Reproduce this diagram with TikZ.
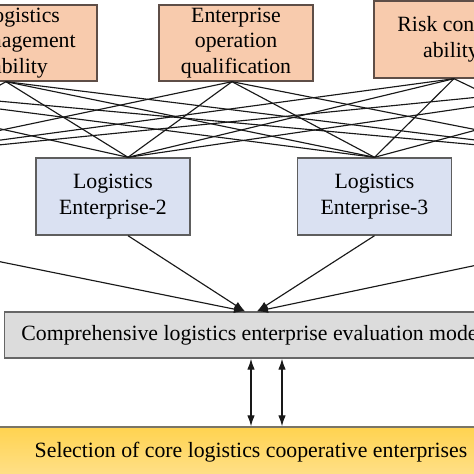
\documentclass[tikz,border=0pt]{standalone}
\usepackage{fontspec}
\setmainfont{Liberation Serif}
\usetikzlibrary{arrows.meta}
\definecolor{critfill}{HTML}{F8CBAD}
\definecolor{critline}{HTML}{5E4E47}
\definecolor{entfill}{HTML}{DAE1F2}
\definecolor{entline}{HTML}{5E5E5E}
\definecolor{evalfill}{HTML}{DCDCDC}
\definecolor{evalline}{HTML}{666666}
\definecolor{seltop}{HTML}{FFD350}
\definecolor{selbot}{HTML}{FFE08A}
\definecolor{selline}{HTML}{7A7565}

\begin{document}
\begin{tikzpicture}[x=0.02cm,y=-0.02cm,
    boxtext/.style={align=center,inner sep=0pt,line width=0.8pt,font=\fontsize{12.4}{14.6}\selectfont},
    crit/.style={boxtext,draw=critline,fill=critfill,minimum width=3.08cm,minimum height=1.52cm},
    ent/.style={boxtext,draw=entline,fill=entfill,minimum width=3.08cm,minimum height=1.54cm},
    evalbox/.style={boxtext,draw=evalline,fill=evalfill,anchor=west,inner xsep=0.334cm,minimum height=0.92cm},
    selbox/.style={boxtext,draw=selline,top color=seltop,bottom color=selbot,minimum width=12cm,minimum height=1cm},
    link/.style={line width=0.65pt,draw=black!90},
    toeval/.style={link,-{Latex[length=2.2mm,width=1.6mm]}},
    twoway/.style={link,{Latex[length=2.2mm,width=1.5mm]}-{Latex[length=2.2mm,width=1.5mm]}}]
    \path[use as bounding box,clip] (0,0) rectangle (474,474);

    \node[crit] (c1) at (20,43) {Logistics\\management\\ability};
    \node[crit] (c2) at (236,43) {Enterprise\\operation\\qualification};
    \node[crit,minimum height=1.54cm] (c3) at (451,39.5) {Risk control\\ability};

    \node[ent] (e2) at (113,196.5) {Logistics\\Enterprise-2};
    \node[ent] (e3) at (374.5,196.5) {Logistics\\Enterprise-3};

    \node[evalbox] (ev) at (4,335) {Comprehensive logistics enterprise evaluation model};
    \node[selbox] (sel) at (251,452) {Selection of core logistics cooperative enterprises};

    \coordinate (c0) at (-210,82);
    \coordinate (c1s) at ([xshift=-0.28cm]c1.south);
    \coordinate (c2s) at ([xshift=-0.08cm]c2.south);
    \coordinate (c3s) at ([xshift=0.06cm]c3.south);
    \coordinate (c4) at (670,78);

    \coordinate (e1n) at (-132,158);
    \coordinate (e1s) at (-132,235);
    \coordinate (e2n) at ([xshift=0.3cm]e2.north);
    \coordinate (e2s) at ([xshift=0.3cm]e2.south);
    \coordinate (e3n) at (e3.north);
    \coordinate (e3s) at (e3.south);
    \coordinate (e4n) at (620,158);
    \coordinate (e4s) at (620,235);

    \coordinate (tipl) at (245,0 |- ev.north);
    \coordinate (tipr) at (257,0 |- ev.north);

    \foreach \s in {c0,c1s,c2s,c3s,c4}
        \foreach \t in {e1n,e2n,e3n,e4n}
            \draw[link] (\s) -- (\t);

    \draw[toeval] (e1s) -- (tipl);
    \draw[toeval] (e2s) -- (tipl);
    \draw[toeval] (e3s) -- (tipr);
    \draw[toeval] (e4s) -- (tipr);

    \draw[twoway] (251,0 |- ev.south) -- (251,0 |- sel.north);
    \draw[twoway] (282,0 |- ev.south) -- (282,0 |- sel.north);
\end{tikzpicture}
\end{document}
